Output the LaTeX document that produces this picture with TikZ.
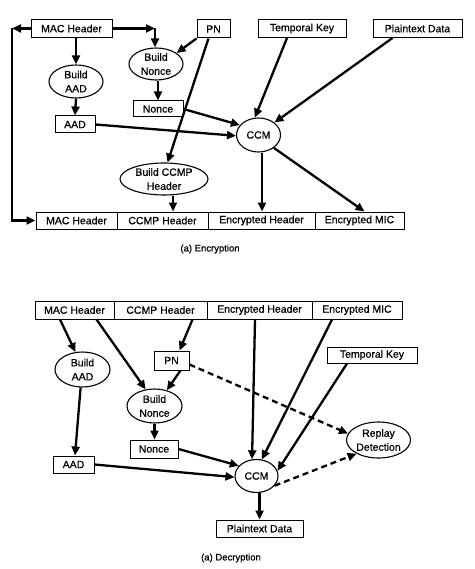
\documentclass[tikz,border=0pt]{standalone}
\usepackage{fontspec}
\setmainfont{Liberation Sans}[FakeBold=0.7]
\usetikzlibrary{arrows.meta,shapes.geometric,calc}
\begin{document}
\begin{tikzpicture}[x=1pt,y=-1pt,
  font=\fontsize{10.5}{14}\selectfont,
  rbox/.style={draw, line width=1pt, inner sep=0pt, minimum height=18pt},
  ell/.style={draw, ellipse, line width=1.1pt, inner sep=0pt, align=center},
  arr/.style={line width=2.3pt, -{Triangle[length=9pt,width=8pt]}},
  darr/.style={arr, dash pattern=on 6pt off 4pt},
  captxt/.style={font=\fontsize{9.5}{11}\selectfont}]
\useasboundingbox (0,0) rectangle (474,569);
% ---------- Encryption ----------
\node[rbox, minimum width=81pt] (mac) at (71.5,28.5) {MAC Header};
\node[rbox, minimum width=33pt] (pn) at (213.5,29) {PN};
\node[rbox, minimum width=88pt] (tk) at (302,28.5) {Temporal Key};
\node[rbox, minimum width=89pt] (pd) at (417.5,28.5) {Plaintext Data};
\node[ell, minimum width=54pt, minimum height=33pt] (bad) at (76,81.5) {Build\\AAD};
\node[ell, minimum width=54pt, minimum height=32pt] (bn) at (156,64) {Build\\Nonce};
\node[rbox, minimum width=50pt, minimum height=16pt] (nonce) at (158,109) {Nonce};
\node[rbox, minimum width=40pt, minimum height=17pt] (aad) at (75,124.5) {AAD};
\node[ell, minimum width=44pt, minimum height=34pt] (ccm) at (258.5,135) {CCM};
\node[ell, minimum width=88pt, minimum height=32pt] (bcc) at (164,179) {Build CCMP\\Header};
\node[rbox, minimum width=81pt, minimum height=17pt] (omac) at (76.5,220.5) {MAC Header};
\node[rbox, minimum width=91pt, minimum height=17pt] (och) at (162.5,220.5) {CCMP Header};
\node[rbox, minimum width=107pt, minimum height=17pt] (oeh) at (261.5,220.5) {Encrypted Header};
\node[rbox, minimum width=89pt, minimum height=17pt] (oem) at (359.5,220.5) {Encrypted MIC};
\node[captxt] (cap1) at (210,249) {(a) Encryption};
\coordinate (cl) at (12,28.5);
\coordinate (cr) at (155,28.5);
\draw[arr] (mac.west) -- (cl);
\draw[arr] (cl) |- (omac.west);
\draw[arr] (mac.east) -- (cr);
\draw[arr] (cr) -- (bn.north -| cr);
\draw[arr] (mac.south -| bad.north) -- (bad.north);
\draw[arr] (bad.south) -- (aad.north);
\draw[arr] (pn.south west) -- (bn.28);
\draw[arr] (bn.south -| nonce.north) -- (nonce.north);
\draw[arr] ([xshift=-5pt]pn.south) -- (bcc.78);
\draw[arr] (nonce.east) -- (ccm.152);
\draw[arr] (aad.east) -- (ccm.182);
\draw[arr] ([xshift=-15pt]tk.south) -- (ccm.102);
\draw[arr] ([xshift=-25pt]pd.south) -- (ccm.38);
\draw[arr] ([xshift=3.5pt]ccm.south) -- ([xshift=3.5pt]ccm.south |- oeh.north);
\draw[arr] (ccm.-40) -- ([xshift=5pt]oem.north);
\draw[arr] ([xshift=9pt]bcc.south) -- ([xshift=9pt]bcc.south |- och.north);
% ---------- Decryption ----------
\node[rbox, minimum width=79pt] (dm) at (74.5,310) {MAC Header};
\node[rbox, minimum width=93pt] (dc) at (160.5,310) {CCMP Header};
\node[rbox, minimum width=105pt] (deh) at (259.5,310) {Encrypted Header};
\node[rbox, minimum width=90pt] (dem) at (357,310) {Encrypted MIC};
\node[rbox, minimum width=90pt, minimum height=16pt] (tk2) at (372,355) {Temporal Key};
\node[rbox, minimum width=35pt, minimum height=19pt] (pn2) at (171.5,360.5) {PN};
\node[ell, minimum width=55pt, minimum height=35pt] (bad2) at (82.5,369.5) {Build\\AAD};
\node[ell, minimum width=55pt, minimum height=34pt] (bn2) at (154.5,406) {Build\\Nonce};
\node[rbox, minimum width=48pt, minimum height=18pt] (nonce2) at (154,449) {Nonce};
\node[rbox, minimum width=41pt, minimum height=17pt] (aad2) at (73.5,464.5) {AAD};
\node[ell, minimum width=43pt, minimum height=33pt] (ccm2) at (256.5,476) {CCM};
\node[ell, minimum width=64pt, minimum height=36pt] (rd) at (378.5,440) {Replay\\Detection};
\node[rbox, minimum width=87pt, minimum height=17pt] (pd2) at (259.5,528.5) {Plaintext Data};
\node[captxt] (cap2) at (231,558) {(a) Decryption};
\draw[arr] ([xshift=-14.5pt]dm.south) -- (bad2.112);
\draw[arr] ([xshift=22pt]dm.south) -- (bn2.118);
\draw[arr] ([xshift=32pt]dc.south) -- ([xshift=8pt]pn2.north);
\draw[arr] ([xshift=9pt]pn2.south) -- (bn2.52);
\draw[darr] ([yshift=-4pt]pn2.east) -- (rd.168);
\draw[arr] (bad2.264) -- ([xshift=1.5pt]aad2.north);
\draw[arr] (bn2.south) -- (bn2.south |- nonce2.north);
\draw[arr] (nonce2.east) -- (ccm2.150);
\draw[arr] (aad2.east) -- (ccm2.183);
\draw[arr] ([xshift=-4.5pt]deh.south) -- (ccm2.105);
\draw[arr] ([xshift=-25pt]dem.south) -- (ccm2.72);
\draw[arr] ([xshift=-25pt]tk2.south) -- (ccm2.14);
\draw[darr] (ccm2.-28) -- (rd.212);
\draw[arr] ([xshift=3pt]ccm2.south) -- ([xshift=3pt]ccm2.south |- pd2.north);
\end{tikzpicture}
\end{document}
